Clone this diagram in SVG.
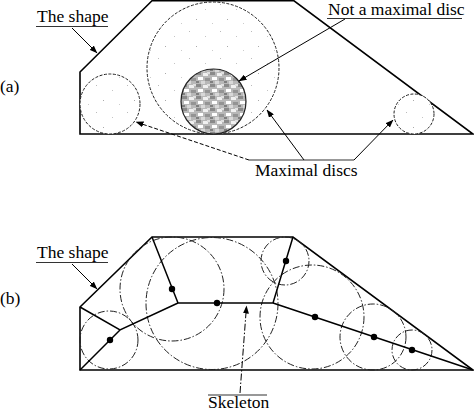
<svg xmlns="http://www.w3.org/2000/svg" width="474" height="412" viewBox="0 0 474 412">
<defs>
<marker id="ah" markerWidth="8" markerHeight="6" refX="7.5" refY="3" orient="auto" markerUnits="userSpaceOnUse">
<path d="M0,0 L8,3 L0,6 Z" fill="#000"/>
</marker>
<pattern id="spk" width="31" height="27" patternUnits="userSpaceOnUse">
<rect width="31" height="27" fill="#fff"/>
<rect x="3" y="4" width="1" height="1" fill="#bbb"/>
<rect x="19" y="9" width="1" height="1" fill="#c4c4c4"/>
<rect x="10" y="19" width="1" height="1" fill="#aaa"/>
<rect x="26" y="23" width="1" height="1" fill="#ccc"/>
</pattern>
<pattern id="chk" width="14" height="12" patternUnits="userSpaceOnUse">
<rect width="14" height="12" fill="#b8b8b8"/>
<rect x="0" y="0" width="5" height="3" fill="#8a8a8a"/>
<rect x="7" y="1" width="5" height="3" fill="#f0f0f0"/>
<rect x="2" y="5" width="5" height="3" fill="#fff"/>
<rect x="9" y="6" width="5" height="3" fill="#949494"/>
<rect x="5" y="9" width="4" height="3" fill="#d8d8d8"/>
<rect x="0" y="9" width="3" height="2" fill="#7f7f7f"/>
<rect x="11" y="0" width="3" height="2" fill="#e0e0e0"/>
</pattern>
</defs>
<style>
.shape{fill:none;stroke:#000;stroke-width:1.6;stroke-linejoin:miter}
.lbl{font-family:"Liberation Serif","Times New Roman",serif;font-size:17.5px;fill:#000}
.ul{stroke:#333;stroke-width:1.2}
.lead{stroke:#000;stroke-width:1;fill:none;marker-end:url(#ah)}
.da{stroke:#222;stroke-width:1;stroke-dasharray:3 1.5}
.dd{fill:none;stroke:#222;stroke-width:1;stroke-dasharray:7 2 1.5 2}
.sk{stroke:#000;stroke-width:1.5;fill:none}
</style>

<g id="panel-a">
<text class="lbl" x="0" y="92">(a)</text>
<g id="shape-a"><polygon class="shape" points="80,134 80,72 152,0.8 294,0.8 473,134"/></g>
<g id="big-disc-a"><circle cx="213" cy="68" r="66" fill="url(#spk)" class="da"/></g>
<g id="checker-disc"><circle cx="213.5" cy="101.5" r="32.5" fill="url(#chk)" stroke="#222" stroke-width="1.2"/></g>
<g id="left-disc-a"><circle cx="110" cy="104" r="30" fill="url(#spk)" class="da"/></g>
<g id="right-disc-a"><circle cx="414" cy="114" r="20" fill="url(#spk)" class="da"/></g>
<g id="label-shape-a">
<text class="lbl" x="37" y="22">The shape</text>
<line class="ul" x1="36" y1="26.5" x2="108" y2="26.5"/>
</g>
<g id="label-notmax">
<text class="lbl" x="328" y="15">Not a maximal disc</text>
<line class="ul" x1="327" y1="18.5" x2="462" y2="18.5" stroke="#666"/>
</g>
<g id="label-maxdiscs">
<text class="lbl" x="255" y="176">Maximal discs</text>
<line class="ul" x1="249" y1="160" x2="354" y2="160"/>
</g>
<g id="connectors-a">
<line class="lead" x1="72" y1="28" x2="97" y2="53"/>
<line class="lead" x1="345" y1="19" x2="239" y2="81"/>
<line class="lead" x1="249" y1="160" x2="136" y2="122" stroke-dasharray="4 2"/>
<line class="lead" x1="304" y1="160" x2="267" y2="110"/>
<line class="lead" x1="354" y1="160" x2="393" y2="120"/>
</g>
</g>

<g id="panel-b">
<text class="lbl" x="0" y="304">(b)</text>
<g id="shape-b"><polygon class="shape" points="80,370 80,307 152,237 293,237 473,370"/></g>
<g id="discs-b">
<circle class="dd" cx="109" cy="340" r="29"/>
<circle class="dd" cx="172" cy="289" r="52"/>
<circle class="dd" cx="212" cy="303.5" r="66"/>
<circle class="dd" cx="285" cy="261" r="24"/>
<circle class="dd" cx="312" cy="317" r="52"/>
<circle class="dd" cx="373" cy="337" r="33"/>
<circle class="dd" cx="412" cy="350" r="20"/>
</g>
<g id="skeleton">
<path class="sk" d="M80,370 L120,330 M80,307 L120,330 L178,303 M152,237 L178,303 L273,303 L293,237 M273,303 L473,370"/>
<g fill="#000">
<circle cx="110" cy="340" r="3.2"/>
<circle cx="172" cy="289" r="3.2"/>
<circle cx="217" cy="303" r="3.2"/>
<circle cx="286" cy="261" r="3.2"/>
<circle cx="315" cy="317" r="3.2"/>
<circle cx="374" cy="337" r="3.2"/>
<circle cx="412" cy="350" r="3.2"/>
</g>
</g>
<g id="label-shape-b">
<text class="lbl" x="37" y="258">The shape</text>
<line class="ul" x1="36" y1="262.5" x2="108" y2="262.5"/>
</g>
<g id="label-skeleton">
<text class="lbl" x="208" y="408">Skeleton</text>
<line class="ul" x1="208" y1="395" x2="267" y2="395"/>
</g>
<g id="connectors-b">
<line class="lead" x1="72" y1="264" x2="97" y2="289"/>
<line class="lead" x1="240" y1="393" x2="246.5" y2="306" stroke-dasharray="7 2 1.5 2"/>
</g>
</g>
</svg>
